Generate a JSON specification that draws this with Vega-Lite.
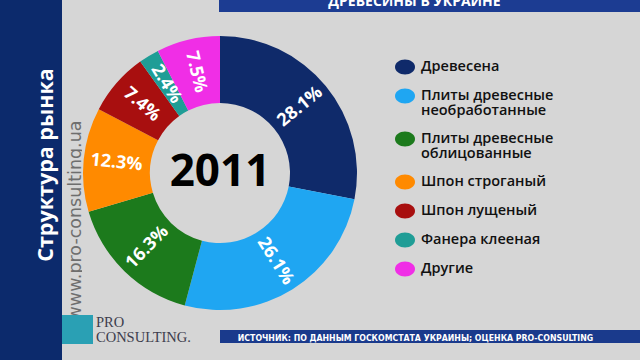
{
  "$schema": "https://vega.github.io/schema/vega-lite/v6.json",
  "padding": 0,
  "background": "#d6d6d6",
  "config": {"view": {"stroke": null}, "font": "Open Sans"},
  "datasets": {
    "share": [
      {"category": "Древесена", "value": 28.1, "order": 1},
      {"category": "Плиты древесные необработанные", "value": 26.1, "order": 2},
      {"category": "Плиты древесные облицованные", "value": 16.3, "order": 3},
      {"category": "Шпон строганый", "value": 12.3, "order": 4},
      {"category": "Шпон лущеный", "value": 7.4, "order": 5},
      {"category": "Фанера клееная", "value": 2.4, "order": 6},
      {"category": "Другие", "value": 7.5, "order": 7}
    ]
  },
  "spacing": 0,
  "resolve": {"scale": {"color": "independent"}, "legend": {"color": "independent"}},
  "hconcat": [
    {
      "width": 62,
      "height": 360,
      "view": {"fill": "#0c2a6c", "stroke": null},
      "data": {"values": [{"t": "Структура рынка"}]},
      "mark": {"type": "text", "angle": 270, "fontSize": 21.5, "fontWeight": "bold", "color": "white", "baseline": "middle", "align": "center", "dx": 15, "dy": 15.5},
      "encoding": {"text": {"field": "t"}}
    },
    {
      "spacing": 0,
      "resolve": {"scale": {"color": "independent"}, "legend": {"color": "independent"}},
      "vconcat": [
        {
          "spacing": 0,
          "hconcat": [
            {"width": 157, "height": 12, "data": {"values": []}, "mark": "point", "encoding": {}},
            {
              "width": 421,
              "height": 12,
              "view": {"fill": "#1c3c92", "stroke": null},
              "data": {"values": [{"t": "ДРЕВЕСИНЫ В УКРАИНЕ"}]},
              "mark": {"type": "text", "clip": true, "fontSize": 14, "fontWeight": "bold", "color": "white", "baseline": "alphabetic", "align": "center", "dx": -15, "dy": 0},
              "encoding": {"text": {"field": "t"}}
            }
          ]
        },
        {
          "spacing": 0,
          "resolve": {"scale": {"color": "independent"}, "legend": {"color": "independent"}},
          "hconcat": [
            {
              "width": 20,
              "height": 303,
              "data": {"values": [{"t": "www.pro-consulting.ua"}]},
              "mark": {"type": "text", "clip": true, "angle": 270, "font": "DejaVu Sans", "fontSize": 17.5, "color": "#6e6e6e", "baseline": "middle", "align": "center", "dx": -57, "dy": 3.5},
              "encoding": {"text": {"field": "t"}}
            },
            {
              "spacing": 0,
              "resolve": {"scale": {"color": "independent"}, "legend": {"color": "independent"}},
              "vconcat": [
                {"width": 276, "height": 19, "data": {"values": []}, "mark": "point", "encoding": {}},
                {
                  "width": 276,
                  "height": 284,
                  "layer": [
                    {
                      "data": {"name": "share"},
                      "mark": {"type": "arc", "innerRadius": 70, "outerRadius": 137},
                      "encoding": {
                        "theta": {"field": "value", "type": "quantitative", "stack": true},
                        "order": {"field": "order", "type": "quantitative"},
                        "color": {
                          "field": "category",
                          "type": "nominal",
                          "sort": null,
                          "scale": {
                            "domain": ["Древесена", "Плиты древесные необработанные", "Плиты древесные облицованные", "Шпон строганый", "Шпон лущеный", "Фанера клееная", "Другие"],
                            "range": ["#0f2a6a", "#1fa6f2", "#1c7a1c", "#ff8a00", "#a80f0f", "#1f9d96", "#f02ee6"]
                          },
                          "legend": {
                            "orient": "right",
                            "offset": 11,
                            "padding": 26,
                            "title": null,
                            "symbolType": "M -1 0 A 1 0.75 0 1 0 1 0 A 1 0.75 0 1 0 -1 0 Z",
                            "symbolSize": 400,
                            "symbolStrokeWidth": 0,
                            "symbolOpacity": 1,
                            "labelFontSize": 14.5,
                            "labelFont": "Open Sans",
                            "labelFontWeight": 600,
                            "labelColor": "#111111",
                            "rowPadding": 11,
                            "labelOffset": 6,
                            "labelLimit": 300,
                            "labelExpr": "split(replace(datum.label, 'ные ', 'ные|'), '|')",
                            "encoding": {"labels": {"lineHeight": {"value": 15}}}
                          }
                        }
                      }
                    },
                    {
                      "data": {"name": "share"},
                      "transform": [
                        {"joinaggregate": [{"op": "sum", "field": "value", "as": "total"}]},
                        {"window": [{"op": "sum", "field": "value", "as": "cum"}], "sort": [{"field": "order"}], "frame": [null, 0]},
                        {"calculate": "(datum.cum - datum.value / 2) / datum.total * 360", "as": "mid"},
                        {"calculate": "datum.mid < 180 ? datum.mid - 90 : datum.mid - 270", "as": "rot"},
                        {"calculate": "format(datum.value, '.1f') + '%'", "as": "label"}
                      ],
                      "mark": {"type": "text", "radius": 104, "fontSize": 18, "fontWeight": "bold", "color": "white", "baseline": "middle", "align": "center"},
                      "encoding": {
                        "theta": {"field": "value", "type": "quantitative", "stack": true},
                        "order": {"field": "order", "type": "quantitative"},
                        "text": {"field": "label"},
                        "angle": {"field": "rot", "type": "quantitative", "scale": null}
                      }
                    },
                    {
                      "data": {"values": [{"year": "2011"}]},
                      "mark": {"type": "text", "fontSize": 44, "fontWeight": "bold", "color": "#000000", "baseline": "middle", "align": "center"},
                      "encoding": {"text": {"field": "year"}}
                    }
                  ]
                }
              ]
            }
          ]
        },
        {
          "spacing": 0,
          "hconcat": [
            {"width": 31, "height": 29, "view": {"fill": "#2aa0b4", "stroke": null}, "data": {"values": []}, "mark": "point", "encoding": {}},
            {"width": 3, "height": 29, "data": {"values": []}, "mark": "point", "encoding": {}},
            {
              "width": 124,
              "height": 30,
              "layer": [
                {
                  "data": {"values": [{"t": "PRO"}]},
                  "mark": {"type": "text", "font": "Liberation Serif", "fontSize": 14.5, "color": "#3d3d4d", "align": "left", "baseline": "alphabetic", "dx": -62, "dy": -3},
                  "encoding": {"text": {"field": "t"}}
                },
                {
                  "data": {"values": [{"t": "CONSULTING."}]},
                  "mark": {"type": "text", "font": "Liberation Serif", "fontSize": 14.5, "color": "#3d3d4d", "align": "left", "baseline": "alphabetic", "dx": -62, "dy": 12},
                  "encoding": {"text": {"field": "t"}}
                }
              ]
            },
            {
              "spacing": 0,
              "vconcat": [
                {"width": 420, "height": 15, "data": {"values": []}, "mark": "point", "encoding": {}},
                {
                  "width": 420,
                  "height": 13,
                  "view": {"fill": "#1a3a8c", "stroke": null},
                  "data": {"values": [{"t": "ИСТОЧНИК: ПО ДАННЫМ ГОСКОМСТАТА УКРАИНЫ; ОЦЕНКА PRO-CONSULTING"}]},
                  "mark": {"type": "text", "font": "DejaVu Sans Condensed", "fontSize": 8.7, "fontWeight": "bold", "color": "white", "baseline": "middle", "align": "center", "dx": -14.5, "dy": 1},
                  "encoding": {"text": {"field": "t"}}
                }
              ]
            }
          ]
        }
      ]
    }
  ]
}
